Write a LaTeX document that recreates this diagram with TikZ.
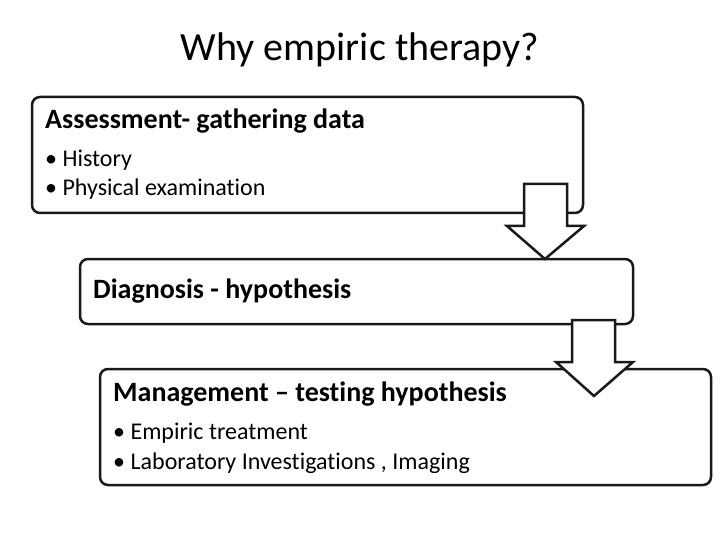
\documentclass[tikz,border=0pt]{standalone}
\usepackage{fontspec}
\setmainfont{Carlito}[Ligatures=NoCommon]
\begin{document}
\begin{tikzpicture}[x=1pt,y=-1pt,
  box/.style={draw=black!90,line width=2.5pt,rounded corners=8pt,fill=white},
  arr/.style={draw=black!90,line width=2.5pt,fill=white,line join=miter},
  head/.style={anchor=west,font=\fontsize{28}{32}\selectfont\bfseries,inner sep=0},
  bul/.style={anchor=west,font=\fontsize{24}{29}\selectfont,inner sep=0}]
\useasboundingbox (0,0) rectangle (720,540);
\node[font=\fontsize{40}{46}\selectfont] (title) at (360,50) {Why empiric therapy?};
\draw[box] (32,97) rectangle (583,213);
\node[head] (h1) at (45,121) {Assessment- gathering data};
\node[bul] (b1) at (45,160) {• History};
\node[bul] (b2) at (45,189) {• Physical examination};
\draw[box] (80,259) rectangle (633,324);
\draw[arr] (524,184) -- (567,184) -- (567,226) -- (584,226) -- (545,259) -- (507,226) -- (524,226) -- cycle;
\node[head] (h2) at (93,291) {Diagnosis - hypothesis};
\draw[box] (100,369) rectangle (711,485);
\draw[arr] (572,320) -- (615,320) -- (615,362) -- (633,362) -- (594,396) -- (556,362) -- (572,362) -- cycle;
\node[head] (h3) at (113,394) {Management – testing hypothesis};
\node[bul] (b3) at (113,433) {• Empiric treatment};
\node[bul] (b4) at (113,463) {• Laboratory Investigations , Imaging};
\end{tikzpicture}
\end{document}
